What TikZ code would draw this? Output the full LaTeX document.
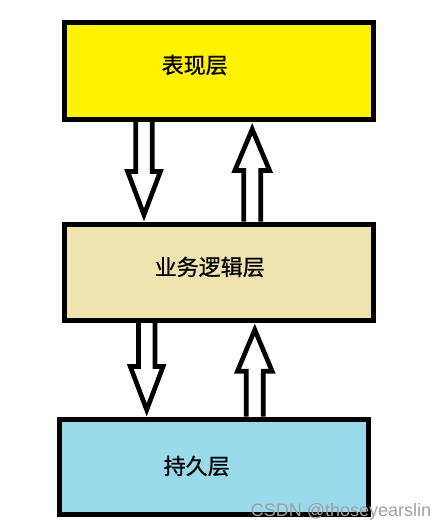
\documentclass[tikz,border=0pt]{standalone}
\usepackage{fontspec}
\setmainfont{Noto Sans CJK SC}
\newfontfamily\layerfont[FakeBold=0.8]{Noto Sans CJK SC}
\newfontfamily\markfont{Liberation Sans}
\usetikzlibrary{calc,backgrounds}

\definecolor{presyellow}{HTML}{FFF200}
\definecolor{bizbeige}{HTML}{EFE4B0}
\definecolor{persblue}{HTML}{99D9EA}

\tikzset{
  layer/.style = {draw, line width=3.75pt, inner sep=0pt, minimum width=231.75pt, minimum height=72.5pt},
  blockline/.style = {draw, fill=white, line width=3.5pt},
  layertext/.style = {font=\layerfont\fontsize{16.5pt}{18pt}\selectfont}
}

% hollow block arrows, tail on one box, tip just short of the other
\newcommand{\downblock}[2]{\draw[blockline] let \p1=(#1), \p2=(#1 |- #2) in
  (\x1-6.2pt,\y1) -- (\x1-6.2pt,\y2+37.5pt) -- (\x1-12.3pt,\y2+37.5pt) -- (\x1,\y2+5pt)
  -- (\x1+12.3pt,\y2+37.5pt) -- (\x1+6.2pt,\y2+37.5pt) -- (\x1+6.2pt,\y1);}
\newcommand{\upblock}[2]{\draw[blockline] let \p1=(#1), \p2=(#1 |- #2) in
  (\x1-6.4pt,\y1) -- (\x1-6.4pt,\y2-36.5pt) -- (\x1-13pt,\y2-36.5pt) -- (\x1,\y2-5.5pt)
  -- (\x1+13pt,\y2-36.5pt) -- (\x1+6.4pt,\y2-36.5pt) -- (\x1+6.4pt,\y1);}

\begin{document}
\begin{tikzpicture}[x=0.75pt, y=-0.75pt]
\useasboundingbox (0,0) rectangle (446,532);

% the three layers
\node [layer, fill=presyellow] (pres) at (219,71) {};
\node [layer, fill=bizbeige, minimum height=72pt] (biz) at (218.5,272) {};
\node [layer, fill=persblue, minimum width=231.4pt, minimum height=71.6pt] (pers) at (214.25,466.75) {};

\node [layertext] (prestext) at (194.7,65) {表现层};
\node [layertext] (biztext) at (209.7,267) {业务逻辑层};
\node [layertext] (perstext) at (196.7,466) {持久层};

% arrows between the layers
\coordinate (d1) at ($(pres.south west)+(82,0)$);
\coordinate (u1) at ($(biz.north west)+(190.7,0)$);
\coordinate (d2) at ($(biz.south west)+(85.2,0)$);
\coordinate (u2) at ($(pers.north west)+(197.3,0)$);
\begin{scope}[on background layer]
\downblock{d1}{biz.north}
\upblock{u1}{pres.south}
\downblock{d2}{pers.north}
\upblock{u2}{biz.south}
\end{scope}

\node [text=gray!75, font=\markfont\fontsize{13.5pt}{14pt}\selectfont] (mark) at (341,512) {CSDN @thoseyearslin};
\end{tikzpicture}
\end{document}
